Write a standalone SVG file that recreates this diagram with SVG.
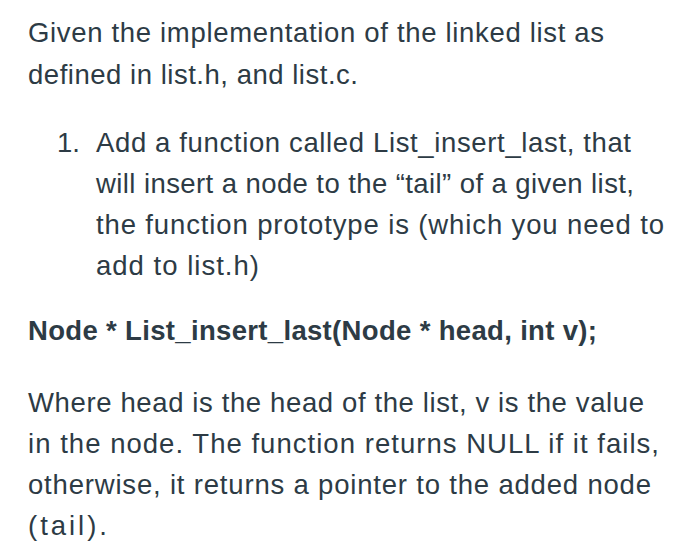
<svg xmlns="http://www.w3.org/2000/svg" width="700" height="558" viewBox="0 0 700 558">
<style>
text{font-family:"Liberation Sans","Noto Sans",sans-serif;font-size:27.5px;fill:#2d3b45}
.b{font-weight:bold}
</style>
<rect width="700" height="558" fill="#fff"/>
<text x="28" y="42" textLength="576" lengthAdjust="spacing">Given the implementation of the linked list as</text>
<text x="28" y="84" textLength="330" lengthAdjust="spacing">defined in list.h, and list.c.</text>
<text x="57" y="152">1.</text>
<text x="96" y="152" textLength="535" lengthAdjust="spacing">Add a function called List_insert_last, that</text>
<text x="96" y="193" textLength="538" lengthAdjust="spacing">will insert a node to the “tail” of a given list,</text>
<text x="96" y="234" textLength="568" lengthAdjust="spacing">the function prototype is (which you need to</text>
<text x="96" y="275" textLength="163" lengthAdjust="spacing">add to list.h)</text>
<text class="b" x="28" y="340" textLength="569" lengthAdjust="spacing">Node * List_insert_last(Node * head, int v);</text>
<text x="28" y="412" textLength="616" lengthAdjust="spacing">Where head is the head of the list, v is the value</text>
<text x="28" y="453" textLength="631" lengthAdjust="spacing">in the node. The function returns NULL if it fails,</text>
<text x="28" y="494" textLength="623" lengthAdjust="spacing">otherwise, it returns a pointer to the added node</text>
<text x="28" y="535" textLength="79" lengthAdjust="spacing">(tail).</text>
</svg>
